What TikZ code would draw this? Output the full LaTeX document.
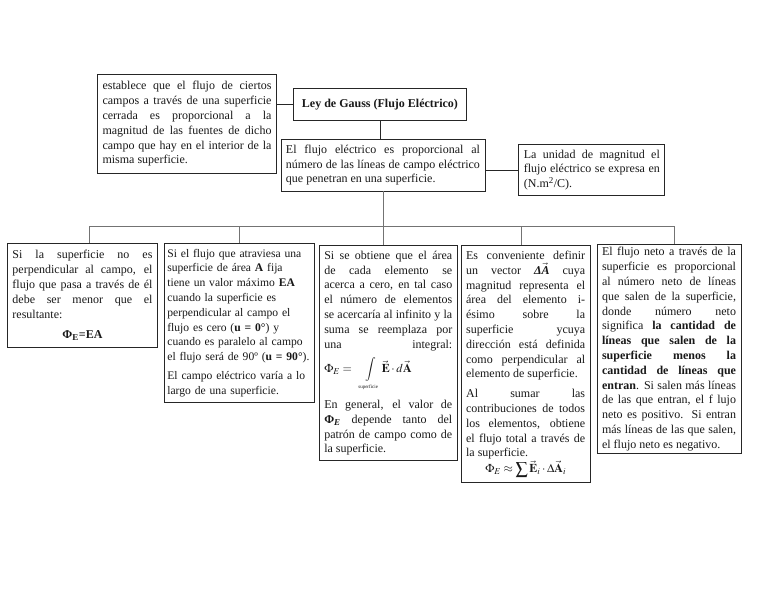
\documentclass[tikz,border=0pt]{standalone}
\usepackage{amsmath}
\usepackage{mathptmx}
\usepackage{fontspec}
\setmainfont{Liberation Serif}
\usetikzlibrary{positioning,calc}

\begin{document}
\begin{tikzpicture}[x=1pt,y=-1pt,font=\fontsize{12}{14.8}\selectfont,text=black!90]
  \tikzstyle{caja}=[draw=black!85,line width=0.9pt,inner xsep=5pt,inner ysep=5.5pt,align=justify,anchor=north west]
  \tikzstyle{titulo}=[draw=black!85,line width=0.9pt,minimum width=173pt,minimum height=32pt,anchor=north west]
  \tikzstyle{enlace}=[draw=black!85,line width=0.8pt]
  \tikzstyle{rama}=[draw=black!55,line width=0.8pt]
  \useasboundingbox[fill=white] (0,0) rectangle (768,594);
  % upper part: title, definition and its two notes
  \node[titulo] (title) at (293,88) {\textbf{Ley de Gauss (Flujo Eléctrico)}};
  \node[caja,text width=169pt,inner ysep=7pt,anchor=north east] (def) at ([xshift=-16pt,yshift=14pt]title.north west)
    {establece que el flujo de ciertos\linebreak campos a través de una superficie\linebreak
     cerrada es proporcional a la\linebreak magnitud de las fuentes de dicho\linebreak
     campo que hay en el interior de la\linebreak misma superficie.};
  \node[caja,text width=194pt,below=18pt of title.south,anchor=north,xshift=3pt] (flujo)
    {El flujo eléctrico es proporcional al\linebreak número de las líneas de campo eléctrico\linebreak
     que penetran en una superficie.};
  \node[caja,text width=136pt,right=33pt of flujo.north east,anchor=north west,yshift=-5pt] (unidad)
    {La unidad de magnitud el\linebreak flujo eléctrico se expresa en\linebreak (N.m\textsuperscript{2}/C).};
  % lower row of five boxes
  \node[caja,text width=140pt,inner ysep=7pt] (b1) at (7,243)
    {Si la superficie no es\linebreak perpendicular al campo, el\linebreak flujo que pasa a través de él\linebreak
     debe ser menor que el\linebreak resultante:\par\vspace{6pt}
     {\centering\textbf{Φ\textsubscript{E}=EA}\par}};
  \node[caja,text width=144pt,inner xsep=3pt,right=6pt of b1.north east,anchor=north west,align=left,
        font=\fontsize{11.6}{14.8}\selectfont] (b2)
    {Si el flujo que atraviesa una\\ superficie de área \textbf{A} fija\\ tiene un valor máximo \textbf{EA}\\
     cuando la superficie es\\ perpendicular al campo el\\ flujo es cero (\textbf{u = 0°}) y\\
     cuando es paralelo al campo\\ \mbox{el flujo será de 90º (\textbf{u = 90°}).}\\[4pt]
     El campo eléctrico varía a lo\\ largo de una superficie.};
  \node[caja,text width=128pt,right=4pt of b2.north east,anchor=north west,yshift=-2pt] (b3)
    {Si se obtiene que el área\linebreak de cada elemento se\linebreak acerca a cero, en tal caso\linebreak
     el número de elementos\linebreak se acercaría al infinito y la\linebreak suma se reemplaza por\linebreak
     una\hfill integral:\par\vspace{6pt}
     \noindent$\Phi_{E} =\ \ \displaystyle\int\limits_{\text{\tiny superficie}}\vec{\mathbf{E}}\cdot d\vec{\mathbf{A}}$\par\vspace{8pt}
     En general, el valor de\linebreak \textbf{Φ\textsubscript{\textit{E}}} depende tanto del\linebreak
     patrón de campo como de\linebreak la superficie.};
  \node[caja,text width=119pt,right=3pt of b3.north east,anchor=north west] (b4)
    {Es conveniente definir\linebreak un vector \textbf{\textit{Δ}}$\vec{\textbf{\textit{A}}}$ cuya\linebreak
     magnitud representa el\linebreak área del elemento i-\linebreak ésimo sobre la\linebreak
     superficie ycuya\linebreak dirección está definida\linebreak como perpendicular al\linebreak
     elemento de superficie.\par\vspace{5pt}
     Al sumar las\linebreak contribuciones de todos\linebreak los elementos, obtiene\linebreak
     el flujo total a través de\linebreak la superficie.\par\vspace{1pt}
     {\centering$\Phi_E \approx \displaystyle\sum\vec{\mathbf{E}}_i\cdot\Delta\vec{\mathbf{A}}_i$\par}};
  \node[caja,text width=134pt,inner ysep=3pt,right=6pt of b4.north east,anchor=north west,yshift=1pt] (b5)
    {El flujo neto a través de la\linebreak superficie es proporcional\linebreak al número neto de líneas\linebreak
     que salen de la superficie,\linebreak donde número neto\linebreak significa \textbf{la cantidad de\linebreak
     líneas que salen de la\linebreak superficie menos la\linebreak cantidad de líneas que\linebreak
     entran}. Si salen más líneas\linebreak de las que entran, el f lujo\linebreak neto es positivo. Si entran\linebreak
     más líneas de las que salen,\linebreak el flujo neto es negativo.};
  % links in the upper part
  \draw[enlace] (title.west) -- (title.west -| def.east);
  \draw[enlace] (title.south) -- (title.south |- flujo.north);
  \draw[enlace] (unidad.west) -- (unidad.west -| flujo.east);
  % tree down to the five boxes
  \coordinate (bus) at ($(flujo.south)+(0,35)$);
  \draw[rama] (flujo.south) -- (flujo.south |- b3.north);
  \draw[rama] ([xshift=7pt]b1.north) |- (bus) -| ([xshift=5pt]b5.north);
  \draw[rama] (b2.north) -- (b2.north |- bus);
  \draw[rama] ([xshift=-4pt]b4.north) -- ([xshift=-4pt]b4.north |- bus);
\end{tikzpicture}
\end{document}
